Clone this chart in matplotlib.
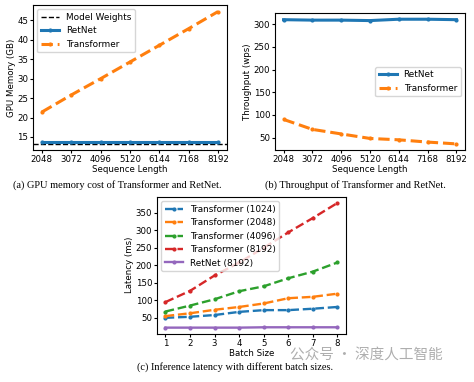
import matplotlib.pyplot as plt

seq_len = [2048, 3072, 4096, 5120, 6144, 7168, 8192]
model_weights = 13.3
mem_retnet = [13.8, 13.8, 13.8, 13.8, 13.8, 13.8, 13.8]
mem_transformer = [21.4, 25.8, 30.0, 34.3, 38.6, 42.9, 47.3]

thr_retnet = [310, 309, 309, 308, 311, 311, 310]
thr_transformer = [90, 68, 58, 48, 45, 40, 36]

batch = [1, 2, 3, 4, 5, 6, 7, 8]
lat_t1024 = [50, 53, 58, 67, 72, 72, 76, 81]
lat_t2048 = [55, 63, 73, 81, 91, 106, 110, 119]
lat_t4096 = [68, 85, 103, 126, 140, 163, 182, 208]
lat_t8192 = [95, 127, 171, 208, 250, 294, 335, 378]
lat_retnet = [22, 22, 22, 22, 23, 23, 23, 23]

fs = 6.2
lfs = 6.4
fig = plt.figure(figsize=(4.74, 3.82), dpi=100)

# (a) memory
ax1 = fig.add_axes([0.0696, 0.607, 0.409, 0.380])
ax1.axhline(model_weights, color='black', ls='--', lw=1.0, label='Model Weights')
ax1.plot(seq_len, mem_retnet, '-', marker='o', ms=2, lw=2.2, color='tab:blue', label='RetNet')
ax1.plot(seq_len, mem_transformer, '--', marker='o', ms=2, lw=2.2, color='tab:orange', label='Transformer')
ax1.set_xticks(seq_len)
ax1.set_yticks([15, 20, 25, 30, 35, 40, 45])
ax1.set_xlabel('Sequence Length', fontsize=fs, labelpad=1)
ax1.set_ylabel('GPU Memory (GB)', fontsize=fs, labelpad=1)
ax1.tick_params(labelsize=fs, length=2, pad=1.5)
ax1.legend(loc='upper left', fontsize=lfs)

# (b) throughput
ax2 = fig.add_axes([0.580, 0.607, 0.401, 0.359])
ax2.plot(seq_len, thr_retnet, '-', marker='o', ms=2, lw=2.2, color='tab:blue', label='RetNet')
ax2.plot(seq_len, thr_transformer, '--', marker='o', ms=2, lw=2.2, color='tab:orange', label='Transformer')
ax2.set_xticks(seq_len)
ax2.set_yticks([50, 100, 150, 200, 250, 300])
ax2.set_xlabel('Sequence Length', fontsize=fs, labelpad=1)
ax2.set_ylabel('Throughput (wps)', fontsize=fs, labelpad=1)
ax2.tick_params(labelsize=fs, length=2, pad=1.5)
ax2.legend(loc='center right', fontsize=lfs)

# (c) latency
ax3 = fig.add_axes([0.331, 0.126, 0.399, 0.359])
ax3.plot(batch, lat_t1024, '--', marker='o', ms=2, lw=1.7, color='tab:blue', label='Transformer (1024)')
ax3.plot(batch, lat_t2048, '--', marker='o', ms=2, lw=1.7, color='tab:orange', label='Transformer (2048)')
ax3.plot(batch, lat_t4096, '--', marker='o', ms=2, lw=1.7, color='tab:green', label='Transformer (4096)')
ax3.plot(batch, lat_t8192, '--', marker='o', ms=2, lw=1.7, color='tab:red', label='Transformer (8192)')
ax3.plot(batch, lat_retnet, '-', marker='o', ms=2, lw=1.7, color='tab:purple', label='RetNet (8192)')
ax3.set_xticks(batch)
ax3.set_yticks([50, 100, 150, 200, 250, 300, 350])
ax3.set_xlabel('Batch Size', fontsize=fs, labelpad=1)
ax3.set_ylabel('Latency (ms)', fontsize=fs, labelpad=1)
ax3.tick_params(labelsize=fs, length=2, pad=1.5)
ax3.legend(loc='upper left', fontsize=lfs)

cap = dict(fontsize=7.5, family='Liberation Serif', ha='center', va='center')
fig.text(117 / 474, 1 - 185 / 382, '(a) GPU memory cost of Transformer and RetNet.', **cap)
fig.text(355 / 474, 1 - 185 / 382, '(b) Throughput of Transformer and RetNet.', **cap)
fig.text(235 / 474, 1 - 367 / 382, '(c) Inference latency with different batch sizes.', **cap)

# watermark
fig.text(290 / 474, 1 - 356 / 382, '公众号 · 深度人工智能', fontsize=10.5,
         family=['Noto Sans CJK SC', 'DejaVu Sans'], color='#9a9a9a', alpha=0.8,
         ha='left', va='center')

fig.savefig('out.png', dpi=100)
